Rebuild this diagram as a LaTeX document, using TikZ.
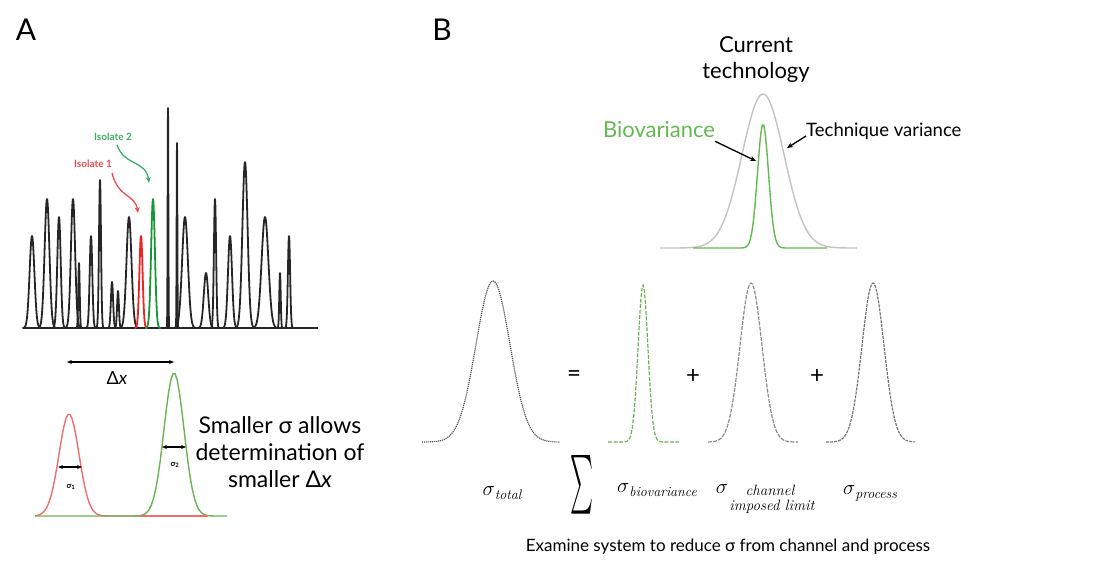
\documentclass[tikz,border=0pt]{standalone}
\usepackage{graphicx}
\usepackage{fontspec}
\setsansfont{Lato}
\usetikzlibrary{arrows.meta}

\definecolor{isored}{RGB}{235,35,35}
\definecolor{isogreen}{RGB}{25,150,55}
\definecolor{isoredtxt}{RGB}{240,75,75}
\definecolor{isogreentxt}{RGB}{60,175,100}
\definecolor{lowred}{RGB}{240,110,110}
\definecolor{lowgreen}{RGB}{105,180,85}
\definecolor{biogreen}{RGB}{100,185,80}
\definecolor{techgray}{RGB}{195,195,195}
\definecolor{dotgray}{RGB}{90,90,90}
\definecolor{dashgray}{RGB}{140,140,140}

% bell curve: style, mean, height, sigma, baseline, from, to
\newcommand{\bell}[7]{\draw[#1] plot[domain=#6:#7, samples=90]
  (\x,{#5-#3*exp(-0.5*(min(abs(\x-#2)/#4,5))^2)});}
\newcommand{\fs}[1]{\fontsize{#1}{#1}\selectfont}
\newcommand{\sig}[1]{\fs{21}$\sigma$\raisebox{-4pt}{\fs{14}\rmfamily\itshape #1}}

\begin{document}
\begin{tikzpicture}[x=1pt, y=-1pt,
  txt/.style={inner sep=0pt, font=\sffamily},
  peak/.style={line width=1.8pt, black!85, line join=round},
  dbl/.style={{Stealth[length=5pt,width=4pt]}-{Stealth[length=5pt,width=4pt]}, line width=1.2pt},
  tip/.style={-{Stealth[length=6pt,width=5pt]}, line width=1.3pt}]
\useasboundingbox (0,0) rectangle (1107,571);

\node[txt, font=\sffamily\fs{30}] (pa) at (26,30) {A};
\node[txt, font=\sffamily\fs{30}] (pb) at (442,30) {B};

% chromatogram
\draw[line width=1.8pt, black!85] (23,328) -- (318,328);
\foreach \m/\h/\s in {32/92/2.4, 47/129/2.4, 59/111/1.7, 73/129/2.1, 79/65/0.7,
  91/92/1.3, 100/148/1.0, 112/46/1.1, 118/37/0.9, 129/111/2.5, 168/220/0.35,
  177/185/0.35, 185/111/2.9, 206/55/2.2, 215/129/1.1, 230/92/2.0, 245/166/2.6,
  265/111/3.4, 280/55/0.7, 289/92/1.1}
  {\bell{peak}{\m}{\h}{\s}{328}{\m-4*\s}{\m+4*\s}}
\bell{peak, isored}{141}{92}{1.6}{328}{134.6}{147.4}
\bell{peak, isogreen}{153}{129}{1.9}{328}{145.4}{160.6}

\node[txt, font=\sffamily\bfseries\fs{10}, text=isogreentxt] (iso2) at (113,137) {Isolate 2};
\node[txt, font=\sffamily\bfseries\fs{10}, text=isoredtxt] (iso1) at (93,164) {Isolate 1};
\coordinate (iso2tip) at (149,183);
\coordinate (iso1tip) at (138,213);
\draw[tip, isogreentxt] ([xshift=-15pt,yshift=-4pt]iso2.south east)
  .. controls (124,166) and (146,160) .. (iso2tip);
\draw[tip, isoredtxt] ([yshift=-5pt]iso1.south east)
  .. controls (118,198) and (135,194) .. (iso1tip);

% resolution
\coordinate (dxl) at (67,362);
\coordinate (dxr) at (174,362);
\draw[dbl] (dxl) -- (dxr);
\node[txt, font=\sffamily\fs{18}] (dx) at (117,378) {Δ\textit{x}};

\bell{line width=1.4pt, lowred}{69}{102}{10}{516}{35}{208}
\bell{line width=1.4pt, lowgreen}{174}{143}{10}{516}{35}{227}
\draw[line width=1.4pt, lowred] (140,516) -- (208,516);

\coordinate (s1l) at (58,467);
\coordinate (s1r) at (82,467);
\draw[dbl] (s1l) -- (s1r);
\node[txt, font=\sffamily\bfseries\fs{8}] (s1) at (71,487) {σ\textsubscript{1}};
\coordinate (s2l) at (162,447);
\coordinate (s2r) at (186,447);
\draw[dbl] (s2l) -- (s2r);
\node[txt, font=\sffamily\bfseries\fs{8}] (s2) at (175,465) {σ\textsubscript{2}};

\node[txt, font=\sffamily\fontsize{23}{27}\selectfont, align=center] (small) at (280,452)
  {Smaller σ allows\\determination of\\smaller Δ\textit{x}};

% current technology
\node[txt, font=\sffamily\fontsize{22}{26}\selectfont, align=center] (cur) at (756,60)
  {Current\\technology};
\bell{line width=1.4pt, techgray}{763}{154}{21}{248}{660}{857}
\bell{line width=1.4pt, biogreen}{763}{124}{5.5}{248}{693}{827}
\node[txt, font=\sffamily\fs{22}, text=biogreen] (bio) at (659,130) {Biovariance};
\node[txt, font=\sffamily\fs{18.5}, anchor=west] (tech) at (806,131) {Technique variance};
\coordinate (biotip) at (756,161);
\coordinate (techtip) at (787,148);
\draw[tip] ([yshift=-3pt]bio.south east) -- (biotip);
\draw[tip] ([yshift=-5pt]tech.west) -- (techtip);

% sum of variances
\bell{line width=1.2pt, dotgray, dash pattern=on 1.2pt off 0.8pt}{493}{161}{17}{442}{422}{560}
\bell{line width=1.2pt, lowgreen, dash pattern=on 4pt off 1.5pt}{643}{157}{4.9}{442}{608}{679}
\bell{line width=1.2pt, dashgray, dash pattern=on 4pt off 1.2pt}{751}{159}{11}{442}{708}{798}
\bell{line width=1.2pt, dashgray!120, dash pattern=on 3pt off 1pt}{873}{159}{11}{442}{826}{915}

\node[txt, font=\sffamily\fs{24}] (eq) at (574,376) {=};
\node[txt, font=\sffamily\fs{24}] (pl1) at (693,376) {+};
\node[txt, font=\sffamily\fs{24}] (pl2) at (817,376) {+};

\node[txt] (stot) at (502,493) {\sig{total}};
\node[txt] (sum) at (581.5,485) {\resizebox{23pt}{44pt}{$\sum$}};
\node[txt] (sbio) at (657,490) {\sig{biovariance}};
\node[txt] (schan) at (722,489) {\fs{21}$\sigma$};
\node[txt, font=\fs{15}\itshape] (chan) at (770,490) {channel};
\node[txt, font=\fs{15}\itshape] (lim) at (772,507) {imposed limit};
\node[txt] (sproc) at (870,493) {\sig{process}};

\node[txt, font=\sffamily\fs{17}] (exam) at (728,547) {Examine system to reduce σ from channel and process};
\end{tikzpicture}
\end{document}
